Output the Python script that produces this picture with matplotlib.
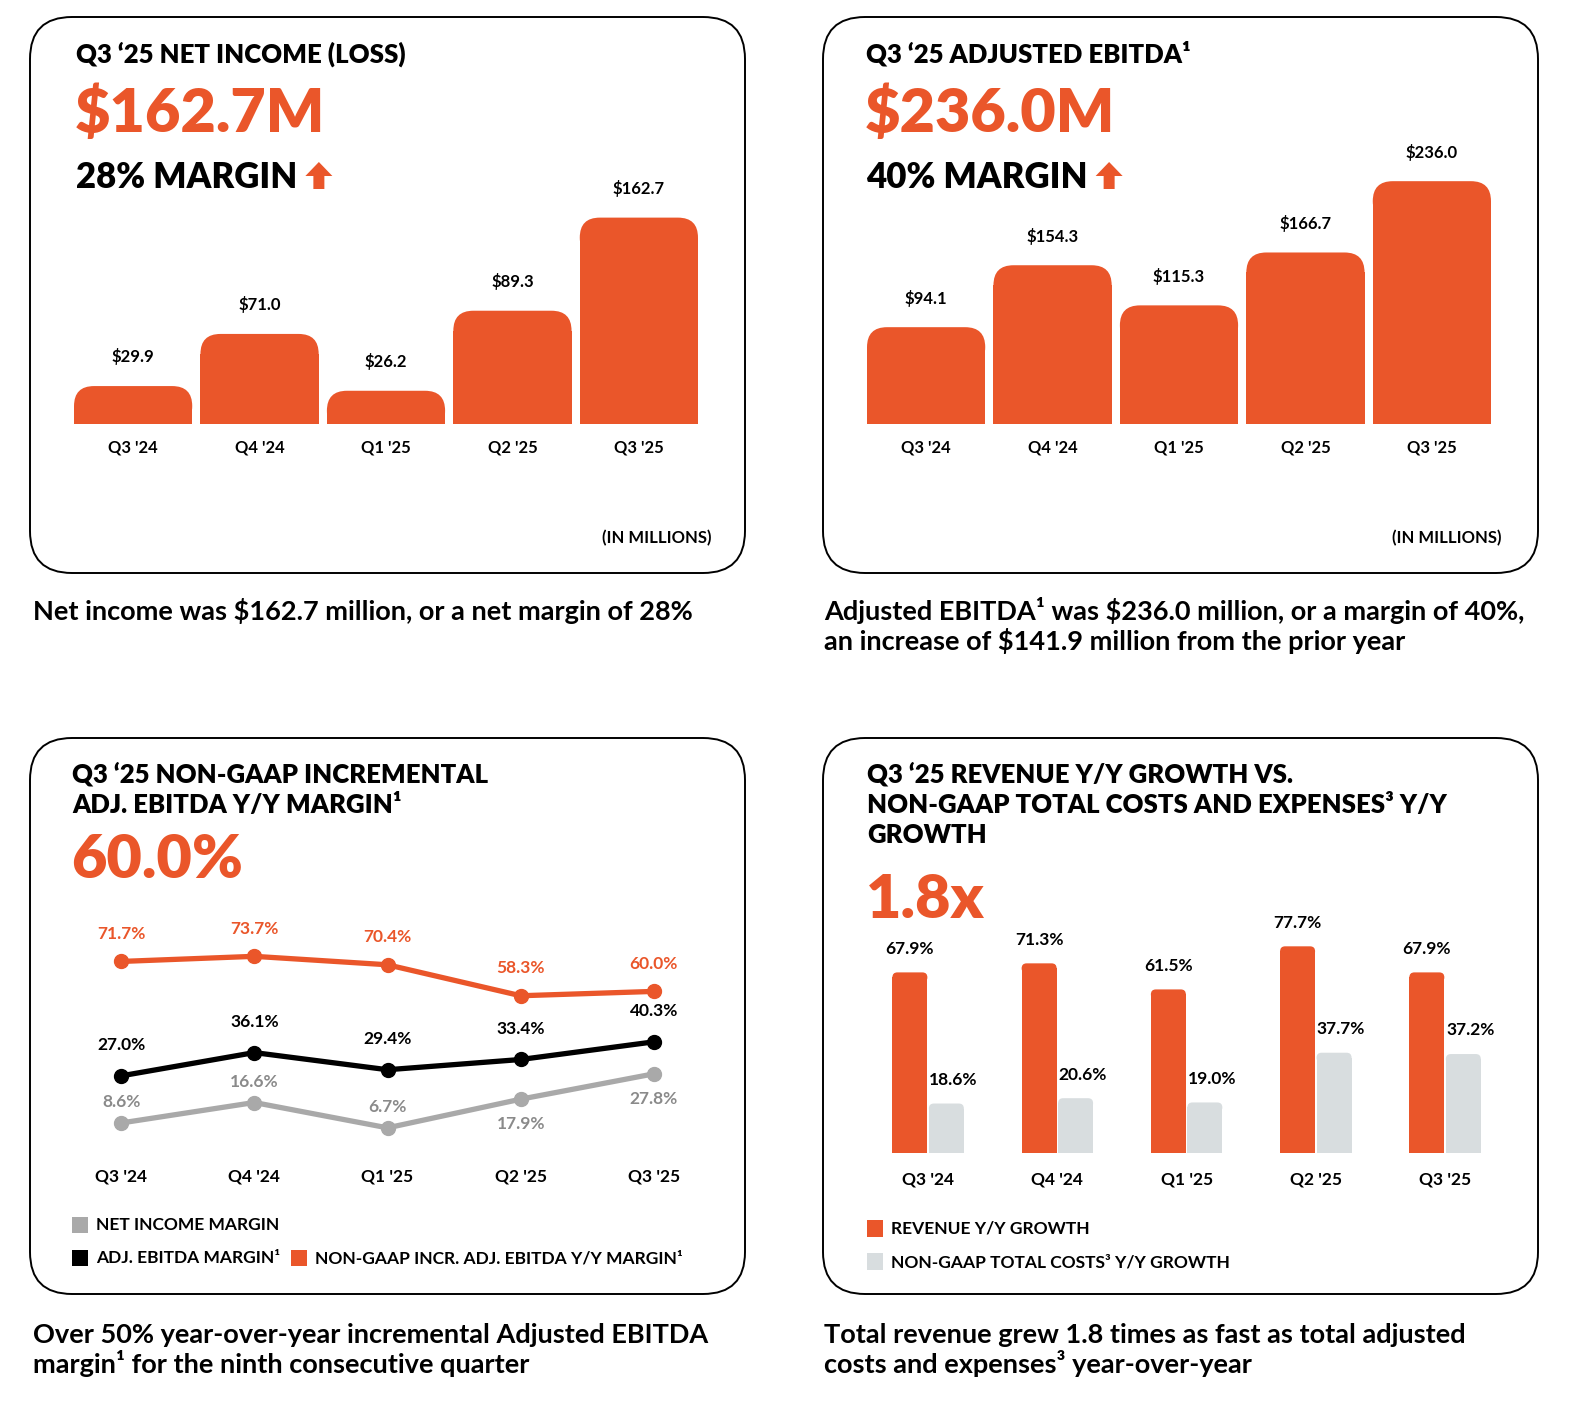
import numpy as np
import matplotlib
matplotlib.use("Agg")
import matplotlib.pyplot as plt
from matplotlib.patches import FancyBboxPatch, Rectangle, Polygon

plt.rcParams.update({"font.family": ["Lato", "DejaVu Sans"], "font.weight": "bold"})

ORANGE, GREY_LINE, GREY_TXT, GREY_BAR = "#EA562A", "#A9A9A9", "#8A8A8A", "#D8DDDF"
HEAVY = "heavy"

# ---- data -----------------------------------------------------------------
QUARTERS = ["Q3 '24", "Q4 '24", "Q1 '25", "Q2 '25", "Q3 '25"]
NET_INCOME = [29.9, 71.0, 26.2, 89.3, 162.7]            # $M
ADJ_EBITDA = [94.1, 154.3, 115.3, 166.7, 236.0]         # $M
NET_INCOME_MARGIN = [8.6, 16.6, 6.7, 17.9, 27.8]        # %
ADJ_EBITDA_MARGIN = [27.0, 36.1, 29.4, 33.4, 40.3]      # %
INCR_EBITDA_MARGIN = [71.7, 73.7, 70.4, 58.3, 60.0]     # %
REVENUE_GROWTH = [67.9, 71.3, 61.5, 77.7, 67.9]         # %
COSTS_GROWTH = [18.6, 20.6, 19.0, 37.7, 37.2]           # %
GREY_LABEL_BELOW = [False, False, False, True, True]

W, H = 1572, 1404
fig = plt.figure(figsize=(W / 100, H / 100), dpi=100)
fig.patch.set_facecolor("white")

# full-figure axes in pixel units (y downwards) for boxes and text
bg = fig.add_axes([0, 0, 1, 1])
bg.set_xlim(0, W); bg.set_ylim(H, 0); bg.axis("off")


def px_axes(x0, y0, x1, y1):
    ax = fig.add_axes([x0 / W, 1 - y1 / H, (x1 - x0) / W, (y1 - y0) / H])
    ax.patch.set_alpha(0)
    for s in ax.spines.values():
        s.set_visible(False)
    ax.set_yticks([])
    ax.tick_params(axis="x", length=0)
    return ax


def round_tops(ax, bars, r):
    """swap plain bar rectangles for ones with rounded top corners (r in px)"""
    p0 = ax.transData.transform((0, 0)); p1 = ax.transData.transform((1, 1))
    sx, sy = p1 - p0
    rx, ry = r / sx, r / sy
    for b in bars:
        x, w, h, c = b.get_x(), b.get_width(), b.get_height(), b.get_facecolor()
        b.set_visible(False)
        ax.add_patch(FancyBboxPatch((x, h - 2 * ry), w, 2 * ry,
                                    boxstyle=f"round,pad=0,rounding_size={rx}",
                                    mutation_aspect=ry / rx, fc=c, ec="none"))
        ax.add_patch(Rectangle((x, 0), w, max(h - ry, 0), fc=c, ec="none"))


def up_arrow(x, y_base):
    bg.add_patch(Polygon([(x, y_base - 13), (x + 13.5, y_base - 27), (x + 27, y_base - 13),
                          (x + 19, y_base - 13), (x + 19, y_base), (x + 8, y_base),
                          (x + 8, y_base - 13)], closed=True, fc=ORANGE, ec="none"))


# ---- panel frames ---------------------------------------------------------
for (x0, y0) in [(30, 17), (823, 17), (30, 738), (823, 738)]:
    bg.add_patch(FancyBboxPatch((x0, y0), 715, 556, boxstyle="round,pad=0,rounding_size=42",
                                fc="none", ec="black", lw=1.4))

renderer = fig.canvas.get_renderer()

# ---- top panels: bar charts ----------------------------------------------
tops = [(76, "Q3 \u201825 NET INCOME (LOSS)", "$162.7M", "28% MARGIN", NET_INCOME, 216, 133),
        (866, "Q3 \u201825 ADJUSTED EBITDA\u00b9", "$236.0M", "40% MARGIN", ADJ_EBITDA, 266.3, 926)]
for left, title, big, margin, vals, ytop, c0 in tops:
    bg.text(left, 63, title, fontsize=18.5, fontweight=HEAVY, va="baseline")
    bg.text(left - 1, 132, big, fontsize=44, fontweight=HEAVY, color=ORANGE, va="baseline")
    t = bg.text(left, 188, margin, fontsize=25, fontweight=HEAVY, va="baseline")
    bb = t.get_window_extent(renderer)
    up_arrow(bb.x1 + 8, 189)
    bg.text(left + 636, 543, "(IN MILLIONS)", fontsize=12, ha="right", va="baseline")

    ax = px_axes(c0 - 63.1, 150, c0 + 4 * 126.5 + 63.1, 424)
    ax.set_xlim(-0.5, 4.5); ax.set_ylim(0, ytop)
    x = np.arange(len(vals))
    bars = ax.bar(x, vals, width=0.935, color=ORANGE)
    round_tops(ax, bars, 20)
    for xi, v in zip(x, vals):
        ax.annotate(f"${v:.1f}", (xi, v), xytext=(0, 21), textcoords="offset points",
                    ha="center", va="center", fontsize=12)
    ax.set_xticks(x, QUARTERS, fontsize=12)
    ax.tick_params(axis="x", pad=11)

CAP = 19.5
bg.text(33, 620, "Net income was $162.7 million, or a net margin of 28%", fontsize=CAP, va="baseline")
bg.text(824, 620, "Adjusted EBITDA\u00b9 was $236.0 million, or a margin of 40%,", fontsize=CAP, va="baseline")
bg.text(824, 650, "an increase of $141.9 million from the prior year", fontsize=CAP, va="baseline")

# ---- bottom left: margin lines ------------------------------------------
bg.text(72, 783, "Q3 \u201825 NON-GAAP INCREMENTAL", fontsize=18.5, fontweight=HEAVY, va="baseline")
bg.text(72, 813, "ADJ. EBITDA Y/Y MARGIN\u00b9", fontsize=18.5, fontweight=HEAVY, va="baseline")
bg.text(71, 878, "60.0%", fontsize=44, fontweight=HEAVY, color=ORANGE, va="baseline")

ax = px_axes(121 - 66.5, 900, 654 + 66.5, 1152)
ax.set_xlim(-0.5, 4.5); ax.set_ylim((1145 - 1152) / 2.56, (1145 - 900) / 2.56)
x = np.arange(len(QUARTERS))
ax.plot(x, NET_INCOME_MARGIN, color=GREY_LINE, lw=3.8, marker="o", ms=10)
ax.plot(x, ADJ_EBITDA_MARGIN, color="black", lw=3.8, marker="o", ms=10)
ax.plot(x, INCR_EBITDA_MARGIN, color=ORANGE, lw=3.8, marker="o", ms=10)
for xi, v in zip(x, INCR_EBITDA_MARGIN):
    ax.annotate(f"{v:.1f}%", (xi, v), xytext=(0, 20), textcoords="offset points",
                ha="center", va="center", fontsize=12.5, color=ORANGE)
for xi, v in zip(x, ADJ_EBITDA_MARGIN):
    ax.annotate(f"{v:.1f}%", (xi, v), xytext=(0, 22), textcoords="offset points",
                ha="center", va="center", fontsize=12.5, color="black")
for xi, v, below in zip(x, NET_INCOME_MARGIN, GREY_LABEL_BELOW):
    ax.annotate(f"{v:.1f}%", (xi, v), xytext=(0, -18) if below else (0, 15),
                textcoords="offset points", ha="center", va="center", fontsize=12.5, color=GREY_TXT)
ax.set_xticks(x, QUARTERS, fontsize=12.5)
ax.tick_params(axis="x", pad=12)

legend3 = [(72, 1217, GREY_LINE, "NET INCOME MARGIN"),
           (72, 1250, "black", "ADJ. EBITDA MARGIN\u00b9"),
           (291, 1250, ORANGE, "NON-GAAP INCR. ADJ. EBITDA Y/Y MARGIN\u00b9")]
for lx, ly, c, lab in legend3:
    bg.add_patch(Rectangle((lx, ly), 16, 16, fc=c, ec="none"))
    bg.text(lx + 24, ly + 8, lab, fontsize=12.5, va="center")

bg.text(33, 1343, "Over 50% year-over-year incremental Adjusted EBITDA", fontsize=CAP, va="baseline")
bg.text(33, 1373, "margin\u00b9 for the ninth consecutive quarter", fontsize=CAP, va="baseline")

# ---- bottom right: growth bars -------------------------------------------
bg.text(867, 783, "Q3 \u201825 REVENUE Y/Y GROWTH VS.", fontsize=18.5, fontweight=HEAVY, va="baseline")
bg.text(867, 813, "NON-GAAP TOTAL COSTS AND EXPENSES\u00b3 Y/Y", fontsize=18.5, fontweight=HEAVY, va="baseline")
bg.text(867, 843, "GROWTH", fontsize=18.5, fontweight=HEAVY, va="baseline")
bg.text(866, 918, "1.8x", fontsize=44, fontweight=HEAVY, color=ORANGE, va="baseline")

ax = px_axes(928 - 64.5, 920, 928 + 4 * 129.3 + 64.5, 1153)
ax.set_xlim(-0.5, 4.5); ax.set_ylim(0, 233 / 2.66)
x = np.arange(len(QUARTERS))
off, bw = 18.25 / 129.3, 35 / 129.3
b1 = ax.bar(x - off, REVENUE_GROWTH, width=bw, color=ORANGE)
b2 = ax.bar(x + off, COSTS_GROWTH, width=bw, color=GREY_BAR)
round_tops(ax, b1, 5); round_tops(ax, b2, 5)
for xi, v in zip(x - off, REVENUE_GROWTH):
    ax.annotate(f"{v:.1f}%", (xi, v), xytext=(0, 17), textcoords="offset points",
                ha="center", va="center", fontsize=12.5)
for xi, v in zip(x + off, COSTS_GROWTH):
    ax.annotate(f"{v:.1f}%", (xi, v), xytext=(5, 17), textcoords="offset points",
                ha="center", va="center", fontsize=12.5)
ax.set_xticks(x, QUARTERS, fontsize=12.5)
ax.tick_params(axis="x", pad=13)

for ly, c, lab in [(1220, ORANGE, "REVENUE Y/Y GROWTH"),
                   (1253, GREY_BAR, "NON-GAAP TOTAL COSTS\u00b3 Y/Y GROWTH")]:
    bg.add_patch(Rectangle((867, ly), 16, 17, fc=c, ec="none"))
    bg.text(891, ly + 9, lab, fontsize=12.5, va="center")

bg.text(824, 1343, "Total revenue grew 1.8 times as fast as total adjusted", fontsize=CAP, va="baseline")
bg.text(824, 1373, "costs and expenses\u00b3 year-over-year", fontsize=CAP, va="baseline")

fig.savefig("out.png", dpi=100, facecolor="white")
